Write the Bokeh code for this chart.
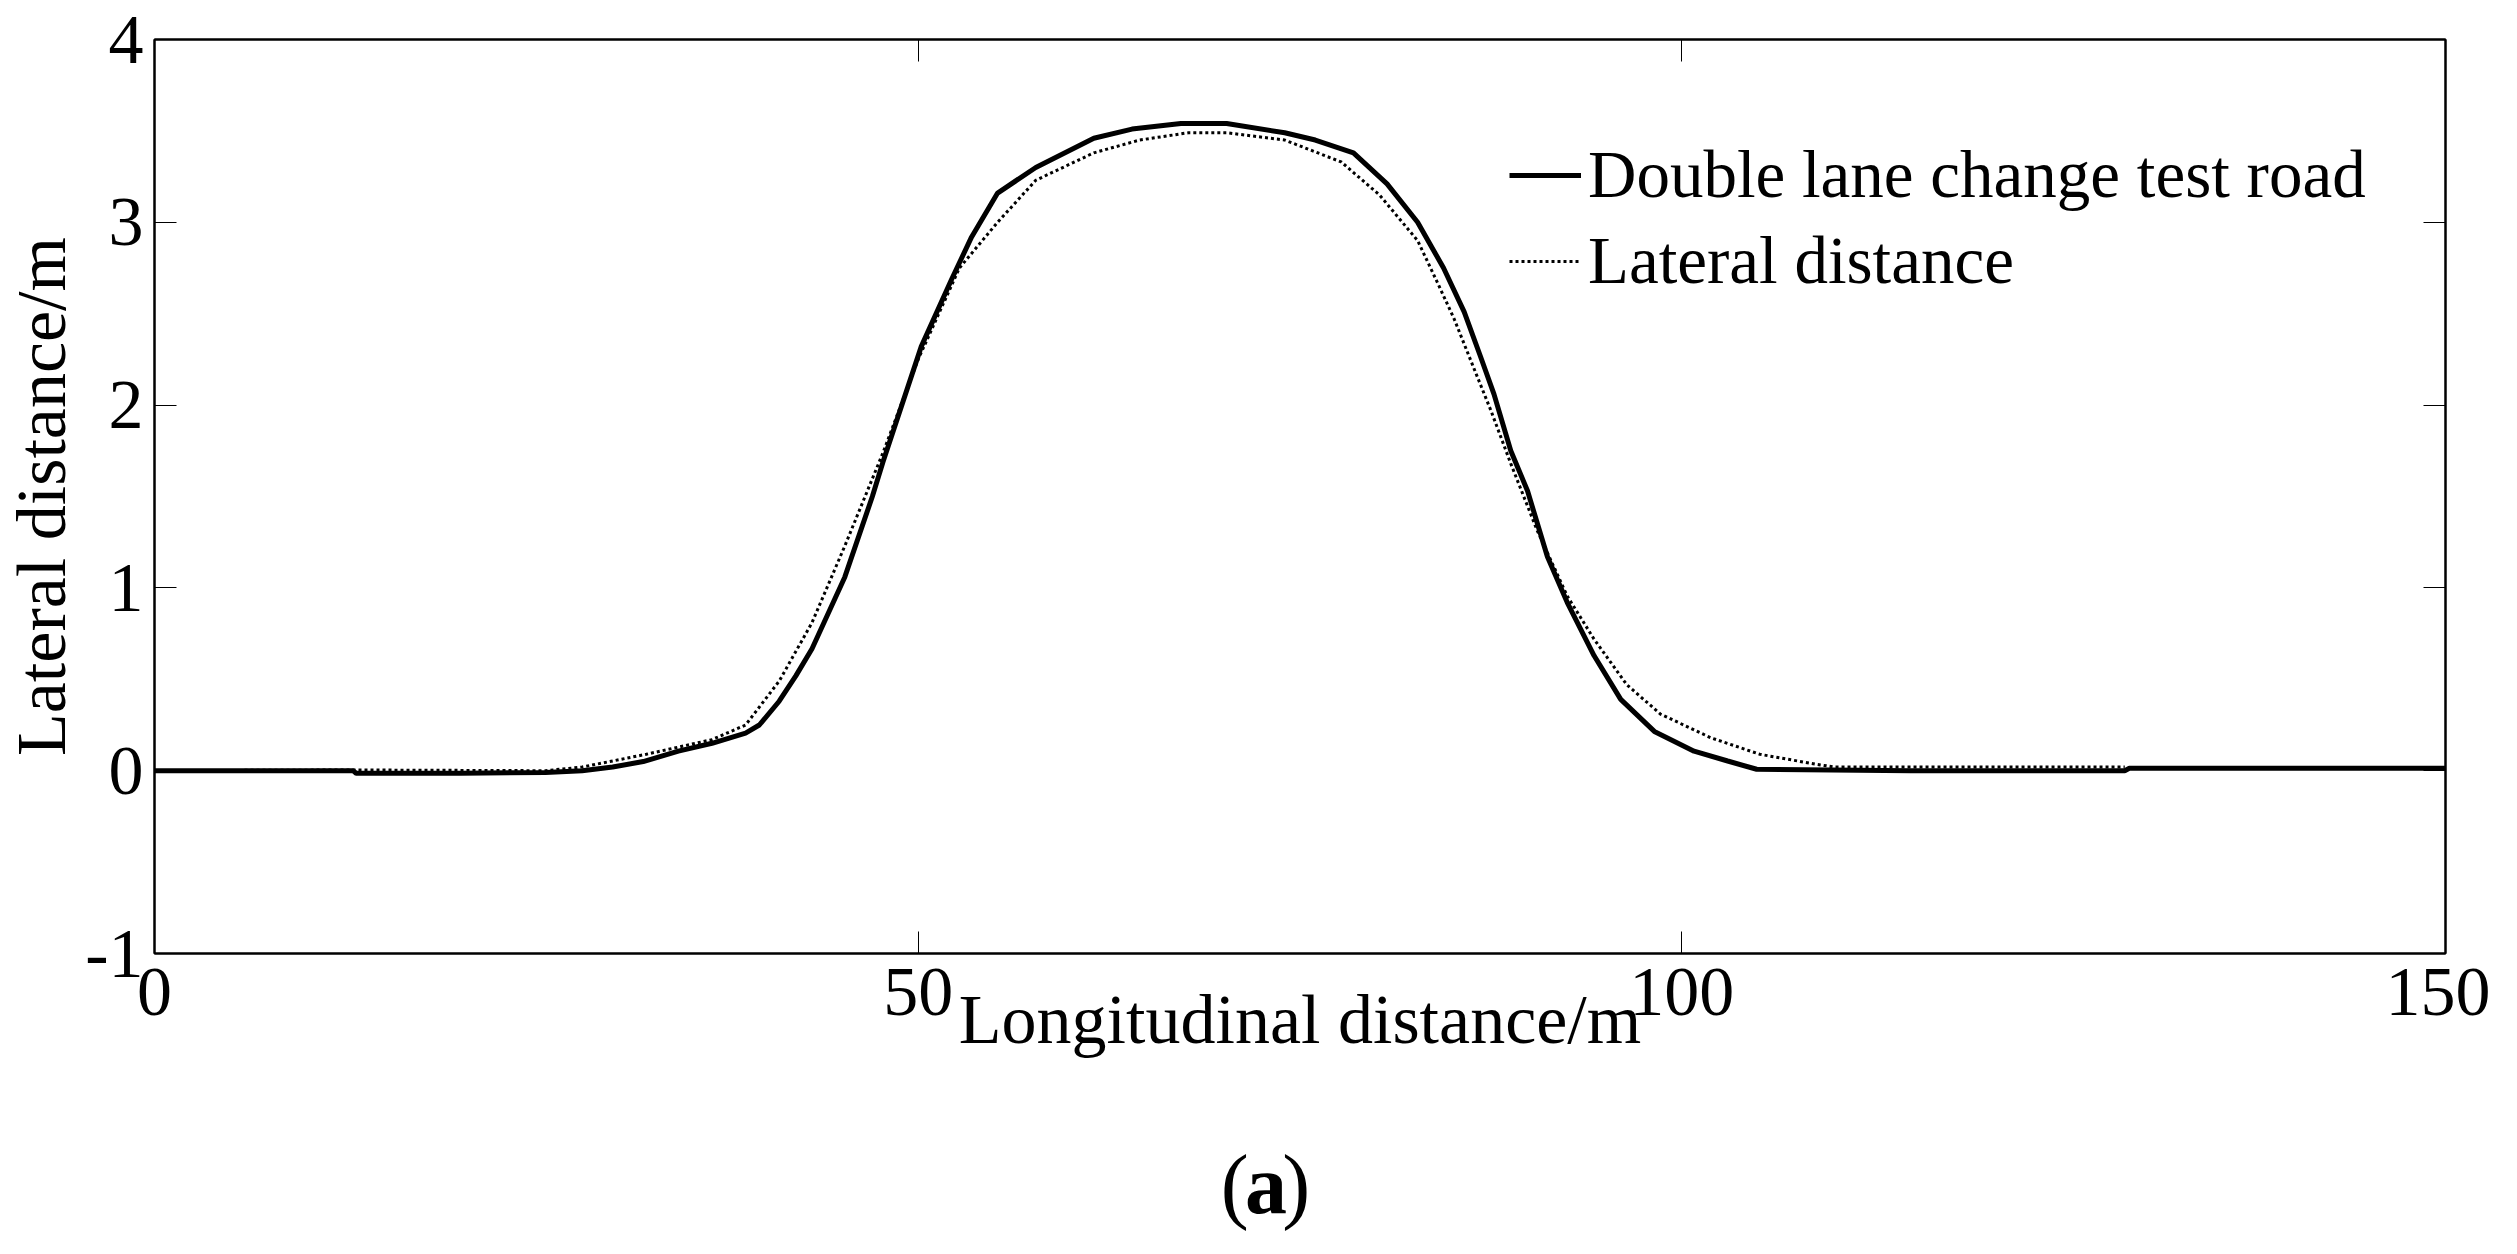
from bokeh.plotting import figure
from bokeh.layouts import column
from bokeh.models import (Range1d, LinearAxis, FixedTicker, Legend, LegendItem,
                          CustomJSTickFormatter)
from bokeh.core.properties import value
from bokeh.embed import file_html
from bokeh.resources import INLINE

# ---- data ----
road_x = [0, 13, 13.2, 20, 25.6, 28, 30, 32, 34.3, 36.5, 38.7, 39.6, 40.9, 42, 43.05,
          45.2, 47.0, 47.7, 50.2, 52.2, 53.5, 55.2, 57.7, 61.5, 64, 67.2, 70.2, 74.0,
          76, 78.5, 80.7, 82.7, 84.4, 85.75, 86.8, 87.7, 88.8, 89.9, 91.2, 92.5, 94.25,
          96.0, 98.2, 100.8, 103.0, 104.9, 115, 129, 129.3, 150]
road_y = [0, 0, -0.014, -0.014, -0.01, 0.0, 0.02, 0.05, 0.107, 0.15, 0.206, 0.25, 0.38,
          0.52, 0.667, 1.06, 1.50, 1.69, 2.32, 2.69, 2.92, 3.16, 3.30, 3.46, 3.51, 3.54,
          3.54, 3.49, 3.45, 3.38, 3.21, 3.0, 2.75, 2.51, 2.27, 2.06, 1.75, 1.53, 1.17,
          0.92, 0.63, 0.39, 0.215, 0.107, 0.053, 0.008, 0.0, 0.0, 0.013, 0.013]

lat_x = [0, 13, 25.6, 28, 32.2, 36.5, 38.7, 40.9, 43.05, 45.2, 47.7, 50.0, 52.7, 55.2,
         57.7, 61.5, 64.5, 67.7, 70.2, 74.0, 77.7, 80.2, 82.7, 84.0, 85.1, 86.2, 87.5,
         88.8, 90.5, 92.5, 94.25, 96.4, 98.6, 101.9, 105.1, 108.8, 110, 129]
lat_y = [0, 0.004, 0.0, 0.02, 0.09, 0.17, 0.25, 0.49, 0.81, 1.23, 1.74, 2.25, 2.75, 3.0,
         3.23, 3.38, 3.45, 3.49, 3.49, 3.45, 3.33, 3.15, 2.90, 2.67, 2.47, 2.24, 1.97,
         1.68, 1.32, 0.955, 0.72, 0.47, 0.31, 0.18, 0.09, 0.035, 0.02, 0.02]

x_ticks = [0, 50, 100, 150]
y_ticks = [-1, 0, 1, 2, 3, 4]
series_names = ["Double lane change test road", "Lateral distance"]
x_title = "Longitudinal distance/m"
y_title = "Lateral distance/m"
caption_parts = ["(", "a", ")"]

FONT = "Liberation Serif"
W = 2490
H1 = 1090
H2 = 148

p = figure(width=W, height=H1, output_backend="svg", toolbar_location=None,
           x_range=Range1d(0, 150), y_range=Range1d(-1, 4),
           min_border_left=150, min_border_right=W - 2445, min_border_top=39,
           min_border_bottom=H1 - 953,
           x_axis_label=x_title, y_axis_label=y_title)
p.grid.visible = False
p.outline_line_color = "black"
p.outline_line_width = 2
p.background_fill_color = "white"
p.border_fill_color = "white"

r1 = p.line(road_x, road_y, line_color="black", line_width=5)
r2 = p.line(lat_x, lat_y, line_color="black", line_width=3, line_dash="3 3")


def style_axis(ax, ticks):
    ax.ticker = FixedTicker(ticks=ticks)
    ax.axis_line_color = "black"
    ax.axis_line_width = 2
    ax.major_tick_in = 22
    ax.major_tick_out = 0
    ax.major_tick_line_color = "black"
    ax.major_tick_line_width = 1
    ax.minor_tick_line_color = None
    ax.major_label_text_font = FONT
    ax.major_label_text_font_size = "70px"
    ax.major_label_text_color = "black"
    ax.axis_label_text_font = FONT
    ax.axis_label_text_font_size = "70px"
    ax.axis_label_text_font_style = "normal"
    ax.axis_label_text_color = "black"


style_axis(p.xaxis[0], x_ticks)
style_axis(p.yaxis[0], y_ticks)
p.yaxis[0].formatter = CustomJSTickFormatter(code="return tick.toString()")
p.xaxis[0].major_label_standoff = 15
p.xaxis[0].axis_label_standoff = -37
p.yaxis[0].major_label_standoff = 11
p.yaxis[0].axis_label_standoff = 2

blank = CustomJSTickFormatter(code="return ''")
top_ax = LinearAxis(formatter=blank)
right_ax = LinearAxis(formatter=blank)
style_axis(top_ax, x_ticks)
style_axis(right_ax, y_ticks)
top_ax.major_label_standoff = 0
right_ax.major_label_standoff = 0
p.add_layout(top_ax, "above")
p.add_layout(right_ax, "right")

legend = Legend(items=[LegendItem(label=series_names[0], renderers=[r1]),
                       LegendItem(label=series_names[1], renderers=[r2])],
                location=(1355, 654), orientation="vertical")
legend.label_text_font = FONT
legend.label_text_font_size = "67px"
legend.label_text_color = "black"
legend.glyph_width = 72
legend.glyph_height = 40
legend.label_standoff = 7
legend.spacing = 9
legend.padding = 0
legend.margin = 0
legend.border_line_color = None
legend.background_fill_alpha = 0
p.add_layout(legend)

# caption "(a)" in a strip below the chart (pixel coordinates of the strip)
base_y = 54   # baseline position, measured from strip bottom
cap = figure(width=W, height=H2, output_backend="svg", toolbar_location=None,
             x_range=Range1d(0, W), y_range=Range1d(0, H2), min_border=0,
             x_axis_type=None, y_axis_type=None)
cap.outline_line_color = None
cap.background_fill_color = "white"
cap.border_fill_color = "white"
cap.text(x=[1174, 1241], y=[base_y, base_y], text=[caption_parts[0], caption_parts[2]],
         text_font=value(FONT), text_font_size=value("84px"), text_color="black",
         text_align="center", text_baseline="alphabetic")
cap.text(x=[1208], y=[base_y], text=[caption_parts[1]],
         text_font=value(FONT), text_font_size=value("84px"), text_font_style="bold",
         text_color="black", text_align="center", text_baseline="alphabetic")

layout = column(p, cap, spacing=0)
open("out.html", "w").write(file_html(layout, INLINE))
